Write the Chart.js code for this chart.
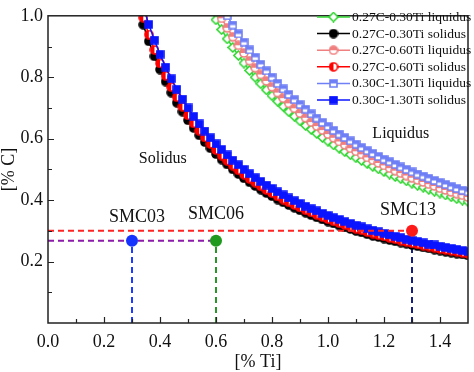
<!DOCTYPE html>
<html>
<head>
<meta charset="utf-8">
<script src="https://cdn.jsdelivr.net/npm/chart.js@4.4.1/dist/chart.umd.min.js"></script>
<style>
html, body { margin: 0; padding: 0; background: #fff; }
#wrap { width: 474px; height: 372px; }
</style>
</head>
<body>
<div id="wrap"><canvas id="phase-chart" width="474" height="372"></canvas></div>
<script>
// Ti values of the solidus curves
const tiSolidus = [0.32,0.34,0.36,0.38,0.40,0.42,0.44,0.46,0.48,0.50,0.52,0.54,0.56,0.58,0.60,0.62,0.64,0.66,0.68,0.70,
  0.72,0.74,0.76,0.78,0.80,0.82,0.84,0.86,0.88,0.90,0.92,0.94,0.96,0.98,1.00,1.02,1.04,1.06,1.08,1.10,
  1.12,1.14,1.16,1.18,1.20,1.22,1.24,1.26,1.28,1.30,1.32,1.34,1.36,1.38,1.40,1.42,1.44,1.46,1.48,1.50];
const solidus027_030 = [1.031,0.971,0.917,0.868,0.825,0.786,0.750,0.717,0.688,0.660,0.635,0.611,0.589,0.569,0.550,0.532,0.516,0.500,0.485,0.471,
  0.458,0.446,0.434,0.423,0.413,0.402,0.393,0.384,0.375,0.367,0.359,0.351,0.344,0.337,0.330,0.324,0.317,0.311,0.306,0.300,
  0.295,0.289,0.284,0.280,0.275,0.270,0.266,0.262,0.258,0.254,0.250,0.246,0.243,0.239,0.236,0.232,0.229,0.226,0.223,0.220];
const solidus027_060 = [1.056,0.994,0.939,0.889,0.845,0.805,0.768,0.735,0.704,0.676,0.650,0.626,0.604,0.583,0.563,0.545,0.528,0.512,0.497,0.483,
  0.469,0.457,0.445,0.433,0.423,0.412,0.402,0.393,0.384,0.376,0.367,0.360,0.352,0.345,0.338,0.331,0.325,0.319,0.313,0.307,
  0.302,0.296,0.291,0.286,0.282,0.277,0.273,0.268,0.264,0.260,0.256,0.252,0.249,0.245,0.241,0.238,0.235,0.232,0.228,0.225];
const solidus030_130 = [1.094,1.029,0.972,0.921,0.875,0.833,0.795,0.761,0.729,0.700,0.673,0.648,0.625,0.603,0.583,0.565,0.547,0.530,0.515,0.500,
  0.486,0.473,0.461,0.449,0.438,0.427,0.417,0.407,0.398,0.389,0.380,0.372,0.365,0.357,0.350,0.343,0.337,0.330,0.324,0.318,
  0.313,0.307,0.302,0.297,0.292,0.287,0.282,0.278,0.273,0.269,0.265,0.261,0.257,0.254,0.250,0.246,0.243,0.240,0.236,0.233];

// Ti values of the liquidus curves
const tiLiquidus = [0.58,0.60,0.62,0.64,0.66,0.68,0.70,0.72,0.74,0.76,0.78,0.80,0.82,0.84,0.86,0.88,0.90,0.92,0.94,0.96,
  0.98,1.00,1.02,1.04,1.06,1.08,1.10,1.12,1.14,1.16,1.18,1.20,1.22,1.24,1.26,1.28,1.30,1.32,1.34,1.36,
  1.38,1.40,1.42,1.44,1.46,1.48,1.50];
const liquidus027_030 = [1.021,0.987,0.955,0.925,0.897,0.871,0.846,0.822,0.800,0.779,0.759,0.740,0.722,0.705,0.688,0.673,0.658,0.643,0.630,0.617,
  0.604,0.592,0.580,0.569,0.558,0.548,0.538,0.529,0.519,0.510,0.502,0.493,0.485,0.477,0.470,0.463,0.455,0.448,0.442,0.435,
  0.429,0.423,0.417,0.411,0.405,0.400,0.395];
const liquidus027_060 = [1.060,1.025,0.992,0.961,0.932,0.904,0.879,0.854,0.831,0.809,0.788,0.769,0.750,0.732,0.715,0.699,0.683,0.668,0.654,0.641,
  0.628,0.615,0.603,0.591,0.580,0.569,0.559,0.549,0.539,0.530,0.521,0.513,0.504,0.496,0.488,0.480,0.473,0.466,0.459,0.452,
  0.446,0.439,0.433,0.427,0.421,0.416,0.410];
const liquidus030_130 = [1.103,1.067,1.032,1.000,0.970,0.941,0.914,0.889,0.865,0.842,0.821,0.800,0.780,0.762,0.744,0.727,0.711,0.696,0.681,0.667,
  0.653,0.640,0.627,0.615,0.604,0.593,0.582,0.571,0.561,0.552,0.542,0.533,0.525,0.516,0.508,0.500,0.492,0.485,0.478,0.471,
  0.464,0.457,0.451,0.444,0.438,0.432,0.427];

// the three steel samples
const sampleNames = ['SMC03', 'SMC06', 'SMC13'];
const sampleTi = [0.30, 0.60, 1.30];
const sampleC = [0.268, 0.268, 0.300];

const serif = "'Liberation Serif', 'Times New Roman', serif";

function pts(xs, ys) {
  return xs.map((x, i) => ({ x: x, y: ys[i] }));
}

// small canvas markers (open / half filled like the original)
function marker(shape, color, fill, size) {
  const s = size || 10;
  const c = document.createElement('canvas');
  c.width = s; c.height = s;
  const g = c.getContext('2d');
  const m = s / 2, r = s / 2 - 1;
  const path = () => {
    g.beginPath();
    if (shape === 'circle') g.arc(m, m, r, 0, Math.PI * 2);
    else if (shape === 'square') g.rect(m - r, m - r, 2 * r, 2 * r);
    else { g.moveTo(m, m - r); g.lineTo(m + r, m); g.lineTo(m, m + r); g.lineTo(m - r, m); g.closePath(); }
  };
  path();
  g.fillStyle = fill === 'full' ? color : '#fff';
  g.fill();
  if (fill === 'left' || fill === 'top') {
    g.save(); path(); g.clip();
    g.fillStyle = color;
    if (fill === 'left') g.fillRect(0, 0, m, s); else g.fillRect(0, 0, s, m);
    g.restore();
  }
  path();
  g.strokeStyle = color; g.lineWidth = 1.6;
  g.stroke();
  return c;
}

const curves = [
  { label: '0.27C-0.30Ti liquidus', xs: tiLiquidus, ys: liquidus027_030, color: '#33d633', mk: marker('diamond', '#33d633', 'none', 11), order: 6 },
  { label: '0.27C-0.30Ti solidus', xs: tiSolidus, ys: solidus027_030, color: '#000000', mk: marker('circle', '#000000', 'full'), order: 7 },
  { label: '0.27C-0.60Ti liquidus', xs: tiLiquidus, ys: liquidus027_060, color: '#f07f7f', mk: marker('circle', '#f07f7f', 'top'), order: 5 },
  { label: '0.27C-0.60Ti solidus', xs: tiSolidus, ys: solidus027_060, color: '#ff0000', mk: marker('circle', '#ff0000', 'left'), order: 6.5 },
  { label: '0.30C-1.30Ti liquidus', xs: tiLiquidus, ys: liquidus030_130, color: '#6f7ff5', mk: marker('square', '#6f7ff5', 'top', 9), order: 4 },
  { label: '0.30C-1.30Ti solidus', xs: tiSolidus, ys: solidus030_130, color: '#0a14ff', mk: marker('square', '#0a14ff', 'full', 9), order: 6.2 }
];

const datasets = curves.map(c => ({
  label: c.label,
  data: pts(c.xs, c.ys),
  borderColor: c.color,
  backgroundColor: c.color,
  borderWidth: 1.5,
  pointStyle: c.mk,
  pointRadius: 4,
  clip: 0,
  order: c.order
}));

function guide(x0, y0, x1, y1, color, order) {
  return {
    data: [{ x: x0, y: y0 }, { x: x1, y: y1 }],
    borderColor: color, borderWidth: 2, borderDash: [6, 4],
    pointRadius: 0, order: order
  };
}
datasets.push(guide(0, sampleC[2], sampleTi[2], sampleC[2], '#ff2424', 2));
datasets.push(guide(0, sampleC[1], sampleTi[1], sampleC[1], '#8b1ba8', 2));
datasets.push(guide(sampleTi[0], 0, sampleTi[0], sampleC[0], '#1e3cff', 2));
datasets.push(guide(sampleTi[1], 0, sampleTi[1], sampleC[1], '#2a962a', 2));
datasets.push(guide(sampleTi[2], 0, sampleTi[2], sampleC[2], '#15207a', 8));
datasets.push({
  type: 'scatter',
  data: pts(sampleTi, sampleC),
  pointRadius: 6,
  pointBorderWidth: 0,
  backgroundColor: ['#1533ff', '#1f9a1f', '#ff1a1a'],
  order: 1
});

// frame, inward ticks, text labels and legend
const decorations = {
  id: 'decorations',
  afterDatasetsDraw(chart) {
    const { ctx, scales: { x, y } } = chart;
    ctx.save();
    ctx.fillStyle = '#111';
    ctx.textAlign = 'center';
    ctx.textBaseline = 'middle';
    ctx.font = '18px ' + serif;
    const labelShift = [[5, -23], [0, -26], [-4, -21]];
    sampleNames.forEach((n, i) => {
      ctx.fillText(n, x.getPixelForValue(sampleTi[i]) + labelShift[i][0], y.getPixelForValue(sampleC[i]) + labelShift[i][1]);
    });
    ctx.font = '16px ' + serif;
    ctx.fillText('Solidus', x.getPixelForValue(0.41), y.getPixelForValue(0.535));
    ctx.fillText('Liquidus', x.getPixelForValue(1.26), y.getPixelForValue(0.615));
    ctx.restore();
  },
  afterDraw(chart) {
    const { ctx, chartArea: a, scales: { x, y } } = chart;
    ctx.save();
    ctx.strokeStyle = '#222';
    ctx.lineWidth = 1.5;
    ctx.strokeRect(a.left, a.top, a.right - a.left, a.bottom - a.top);
    ctx.lineWidth = 1.2;
    ctx.beginPath();
    for (let i = 1; i < 15; i++) {
      const px = Math.round(x.getPixelForValue(i / 10)) + 0.5;
      const len = i % 2 === 0 ? 6 : 4;
      ctx.moveTo(px, a.bottom); ctx.lineTo(px, a.bottom - len);
    }
    for (let i = 1; i < 10; i++) {
      const py = Math.round(y.getPixelForValue(i / 10)) + 0.5;
      const len = i % 2 === 0 ? 6 : 4;
      ctx.moveTo(a.left, py); ctx.lineTo(a.left + len, py);
    }
    ctx.stroke();

    // legend
    ctx.font = '13.5px ' + serif;
    ctx.textAlign = 'left';
    ctx.textBaseline = 'middle';
    curves.forEach((c, i) => {
      const ly = 17 + i * 16.6;
      ctx.strokeStyle = c.color;
      ctx.lineWidth = 1.5;
      ctx.beginPath(); ctx.moveTo(317, ly); ctx.lineTo(350, ly); ctx.stroke();
      ctx.drawImage(c.mk, 333.5 - c.mk.width / 2, ly - c.mk.height / 2);
      ctx.fillStyle = '#111';
      ctx.fillText(c.label, 352, ly + 0.5);
    });
    ctx.restore();
  }
};

new Chart(document.getElementById('phase-chart'), {
  type: 'line',
  data: { datasets: datasets },
  options: {
    responsive: false,
    animation: false,
    events: [],
    devicePixelRatio: 1,
    layout: { padding: { top: 6, right: 1, left: 0, bottom: 0 } },
    plugins: { legend: { display: false }, tooltip: { enabled: false } },
    scales: {
      x: {
        type: 'linear', min: 0, max: 1.5,
        grid: { display: false, drawTicks: false },
        border: { display: false },
        ticks: {
          stepSize: 0.2, includeBounds: false, padding: 8, maxRotation: 0, autoSkip: false,
          color: '#111', font: { family: serif, size: 18 },
          callback: v => v.toFixed(1)
        },
        title: { display: true, text: '[% Ti]', color: '#111', font: { family: serif, size: 18, lineHeight: 1 }, padding: { top: 0, bottom: 1 } },
        afterFit(s) { s.height = 49; }
      },
      y: {
        type: 'linear', min: 0, max: 1.0,
        grid: { display: false, drawTicks: false },
        border: { display: false },
        ticks: {
          stepSize: 0.2, padding: 5,
          color: '#111', font: { family: serif, size: 18 },
          callback: v => (v === 0 ? '' : v.toFixed(1))
        },
        title: { display: true, text: '[% C]', color: '#111', font: { family: serif, size: 18, lineHeight: 1 }, padding: 0 },
        afterFit(s) { s.width = 48; }
      }
    }
  },
  plugins: [decorations]
});
</script>
</body>
</html>
